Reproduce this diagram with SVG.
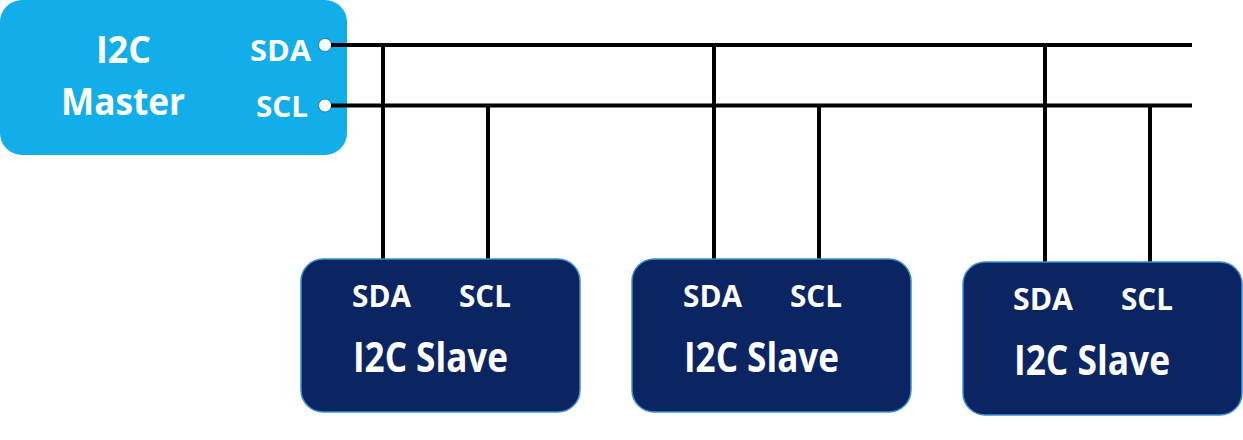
<svg xmlns="http://www.w3.org/2000/svg" width="1243" height="440" viewBox="0 0 1243 440">
<style>
.t{font-family:"Open Sans","Liberation Sans",sans-serif;font-weight:700;fill:#ffffff}
.master{fill:#11aeea}
.slave{fill:#0b2462;stroke:#3f8fd0;stroke-width:1.5}
.wire{stroke:#000;stroke-width:4;fill:none}
.pin{fill:#ffffff;stroke:#0a6f9a;stroke-width:0.8}
</style>
<rect width="1243" height="440" fill="#ffffff"/>
<g id="master">
<rect class="master" x="0" y="0" width="347" height="155" rx="22"/>
<text class="t" x="96" y="63" font-size="37" textLength="55" lengthAdjust="spacingAndGlyphs">I2C</text>
<text class="t" x="61" y="115" font-size="37" textLength="124" lengthAdjust="spacingAndGlyphs">Master</text>
<text class="t" x="250" y="61" font-size="29" textLength="61" lengthAdjust="spacingAndGlyphs">SDA</text>
<text class="t" x="256" y="117" font-size="29" textLength="52" lengthAdjust="spacingAndGlyphs">SCL</text>
<circle class="pin" cx="325" cy="45" r="6.5"/>
<circle class="pin" cx="325" cy="105.5" r="6.5"/>
</g>
<g id="connectors">
<line class="wire" x1="331" y1="45" x2="1192" y2="45"/>
<line class="wire" x1="331" y1="105.5" x2="1192" y2="105.5"/>
<line class="wire" x1="383" y1="45" x2="383" y2="262"/>
<line class="wire" x1="488" y1="105.5" x2="488" y2="262"/>
<line class="wire" x1="714" y1="45" x2="714" y2="262"/>
<line class="wire" x1="819" y1="105.5" x2="819" y2="262"/>
<line class="wire" x1="1045" y1="45" x2="1045" y2="265"/>
<line class="wire" x1="1150" y1="105.5" x2="1150" y2="265"/>
</g>
<g id="slave1">
<rect class="slave" x="301" y="259" width="279" height="153" rx="22"/>
<text class="t" x="352" y="307" font-size="30" textLength="59" lengthAdjust="spacingAndGlyphs">SDA</text>
<text class="t" x="459" y="307" font-size="30" textLength="52" lengthAdjust="spacingAndGlyphs">SCL</text>
<text class="t" x="353" y="372" font-size="41" textLength="155" lengthAdjust="spacingAndGlyphs">I2C Slave</text>
</g>
<g id="slave2">
<rect class="slave" x="632" y="259" width="279" height="153" rx="22"/>
<text class="t" x="683" y="307" font-size="30" textLength="59" lengthAdjust="spacingAndGlyphs">SDA</text>
<text class="t" x="790" y="307" font-size="30" textLength="52" lengthAdjust="spacingAndGlyphs">SCL</text>
<text class="t" x="684" y="372" font-size="41" textLength="155" lengthAdjust="spacingAndGlyphs">I2C Slave</text>
</g>
<g id="slave3">
<rect class="slave" x="963" y="262" width="279" height="153" rx="22"/>
<text class="t" x="1013" y="310" font-size="30" textLength="60" lengthAdjust="spacingAndGlyphs">SDA</text>
<text class="t" x="1121" y="310" font-size="30" textLength="52" lengthAdjust="spacingAndGlyphs">SCL</text>
<text class="t" x="1014" y="375" font-size="41" textLength="156" lengthAdjust="spacingAndGlyphs">I2C Slave</text>
</g>
</svg>
